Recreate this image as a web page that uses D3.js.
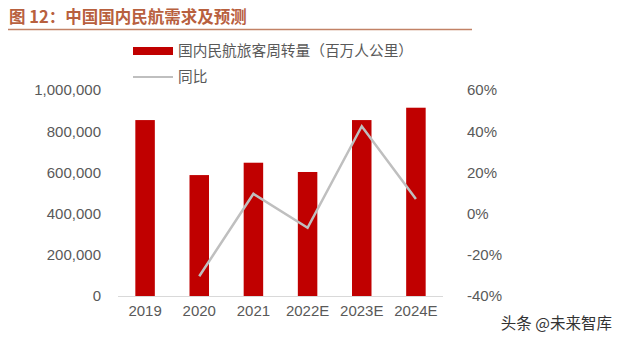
<!DOCTYPE html>
<html><head><meta charset="utf-8">
<script src="https://cdn.jsdelivr.net/npm/d3@7"></script>
<style>body{margin:0;background:#fff;} svg{display:block;}</style>
</head><body>
<svg id="c" width="640" height="341"></svg>
<script>
const categories = ["2019","2020","2021","2022E","2023E","2024E"];
const rpk = [854000, 587000, 647000, 602000, 854000, 914000];
const yoy = [null, -30.4, 9.6, -6.9, 42.4, 7.1];
const leftTicks = [0,200000,400000,600000,800000,1000000];
const rightTicks = [-40,-20,0,20,40,60];
const title = "图 12：中国国内民航需求及预测";
const legendBar = "国内民航旅客周转量（百万人公里）";
const legendLine = "同比";
const watermark = "头条 @未来智库";

const svg = d3.select("#c");
const font = "Arial, 'Liberation Sans', 'Noto Sans CJK SC', sans-serif";
const cjk = "'Noto Sans CJK SC', sans-serif";
const x = d3.scaleBand().domain(categories).range([118,443]).paddingInner(0.64).paddingOuter(0.32);
const yL = d3.scaleLinear().domain([0,1000000]).range([296,90]);
const yR = d3.scaleLinear().domain([-40,60]).range([296,90]);

// title
svg.append("text").attr("x",9).attr("y",23).attr("font-family",cjk).attr("font-weight","bold")
  .attr("font-size",16.5).attr("fill","#b8603e").text(title);
svg.append("line").attr("x1",8).attr("x2",472).attr("y1",29.5).attr("y2",29.5)
  .attr("stroke","#c28266").attr("stroke-width",1.5);

// left axis
const la = svg.append("g").attr("transform","translate(104,0)")
  .call(d3.axisLeft(yL).tickValues(leftTicks).tickFormat(d3.format(",")).tickSize(0).tickPadding(3));
la.select(".domain").remove();
la.selectAll("text").attr("font-family",font).attr("font-size",15).attr("fill","#595959");

// right axis
const ra = svg.append("g").attr("transform","translate(464,0)")
  .call(d3.axisRight(yR).tickValues(rightTicks).tickFormat(d=>d+"%").tickSize(0).tickPadding(3));
ra.select(".domain").remove();
ra.selectAll("text").attr("font-family",font).attr("font-size",15).attr("fill","#595959");

// bars
svg.selectAll("rect.bar").data(rpk).enter().append("rect").attr("class","bar")
  .attr("x",(d,i)=>x(categories[i])).attr("width",x.bandwidth())
  .attr("y",d=>yL(d)).attr("height",d=>yL(0)-yL(d)).attr("fill","#c00000");

// baseline
svg.append("line").attr("x1",118).attr("x2",443).attr("y1",296.5).attr("y2",296.5)
  .attr("stroke","#d9d9d9").attr("stroke-width",1.2);

// x axis
const xa = svg.append("g").attr("transform","translate(0,297)")
  .call(d3.axisBottom(x).tickSize(0).tickPadding(8));
xa.select(".domain").remove();
xa.selectAll("text").attr("font-family",font).attr("font-size",15).attr("fill","#595959");

// line
const pts = categories.map((c,i)=>({c,v:yoy[i]})).filter(d=>d.v!==null);
svg.append("path").datum(pts)
  .attr("d",d3.line().x(d=>x(d.c)+x.bandwidth()/2).y(d=>yR(d.v)))
  .attr("fill","none").attr("stroke","#bfbfbf").attr("stroke-width",2.5);

// legend
svg.append("rect").attr("x",133).attr("y",47).attr("width",40).attr("height",8).attr("fill","#c00000");
svg.append("text").attr("x",178).attr("y",56).attr("font-family",cjk).attr("font-size",14.7)
  .attr("fill","#595959").text(legendBar);
svg.append("line").attr("x1",133).attr("x2",173).attr("y1",77).attr("y2",77)
  .attr("stroke","#bfbfbf").attr("stroke-width",2);
svg.append("text").attr("x",178).attr("y",82).attr("font-family",cjk).attr("font-size",14.7)
  .attr("fill","#595959").text(legendLine);

// watermark
svg.append("text").attr("x",612).attr("y",329).attr("text-anchor","end").attr("font-family",cjk)
  .attr("font-size",15.5).attr("fill","#333").text(watermark);
</script>
</body></html>
